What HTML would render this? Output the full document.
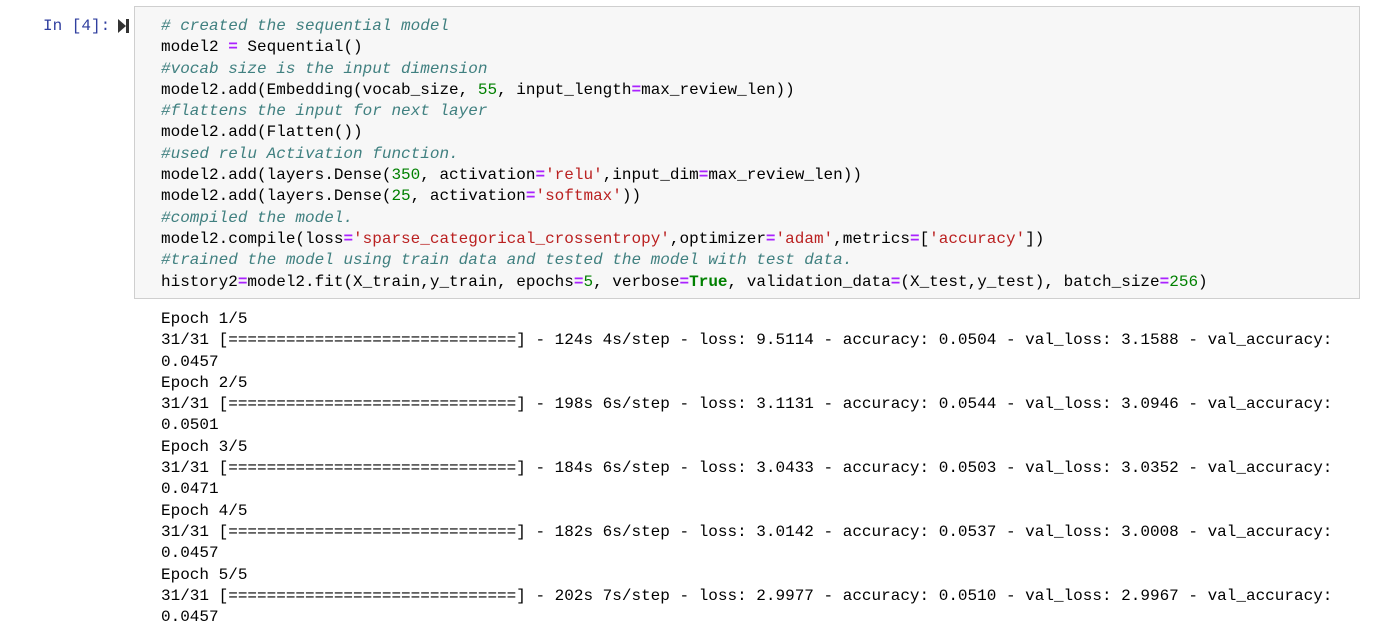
<!DOCTYPE html>
<html><head><style>
body{margin:0;width:1377px;height:631px;background:#fff;overflow:hidden;position:relative;font-family:"Liberation Mono",monospace;font-size:16px;}
.prompt{position:absolute;left:43px;top:16px;color:#303f9f;line-height:21.3px;}
.run{position:absolute;left:118px;top:19px;width:0;height:0;border-top:7px solid transparent;border-bottom:7px solid transparent;border-left:8px solid #333;}
.runbar{position:absolute;left:126px;top:19px;width:3px;height:14px;background:#333;}
.box{position:absolute;left:134px;top:6px;width:1226px;height:293px;background:#f7f7f7;border:1px solid #cfcfcf;box-sizing:border-box;}
pre{margin:0;font-family:"Liberation Mono",monospace;font-size:16px;line-height:21.3px;position:absolute;left:161px;white-space:pre;color:#000;}
.c{color:#408080;font-style:italic}
.o{color:#aa22ff;font-weight:bold}
.n{color:#008000}
.s{color:#ba2121}
.k{color:#008000;font-weight:bold}
</style></head><body>
<div class="prompt">In [4]:</div>
<div class="run"></div><div class="runbar"></div>
<div class="box"></div>
<pre style="top:16px"><span class="c"># created the sequential model</span>
model2 <span class="o">=</span> Sequential()
<span class="c">#vocab size is the input dimension</span>
model2.add(Embedding(vocab_size, <span class="n">55</span>, input_length<span class="o">=</span>max_review_len))
<span class="c">#flattens the input for next layer</span>
model2.add(Flatten())
<span class="c">#used relu Activation function.</span>
model2.add(layers.Dense(<span class="n">350</span>, activation<span class="o">=</span><span class="s">'relu'</span>,input_dim<span class="o">=</span>max_review_len))
model2.add(layers.Dense(<span class="n">25</span>, activation<span class="o">=</span><span class="s">'softmax'</span>))
<span class="c">#compiled the model.</span>
model2.compile(loss<span class="o">=</span><span class="s">'sparse_categorical_crossentropy'</span>,optimizer<span class="o">=</span><span class="s">'adam'</span>,metrics<span class="o">=</span>[<span class="s">'accuracy'</span>])
<span class="c">#trained the model using train data and tested the model with test data.</span>
history2<span class="o">=</span>model2.fit(X_train,y_train, epochs<span class="o">=</span><span class="n">5</span>, verbose<span class="o">=</span><span class="k">True</span>, validation_data<span class="o">=</span>(X_test,y_test), batch_size<span class="o">=</span><span class="n">256</span>)</pre>
<pre style="top:309px">Epoch 1/5
31/31 [==============================] - 124s 4s/step - loss: 9.5114 - accuracy: 0.0504 - val_loss: 3.1588 - val_accuracy:
0.0457
Epoch 2/5
31/31 [==============================] - 198s 6s/step - loss: 3.1131 - accuracy: 0.0544 - val_loss: 3.0946 - val_accuracy:
0.0501
Epoch 3/5
31/31 [==============================] - 184s 6s/step - loss: 3.0433 - accuracy: 0.0503 - val_loss: 3.0352 - val_accuracy:
0.0471
Epoch 4/5
31/31 [==============================] - 182s 6s/step - loss: 3.0142 - accuracy: 0.0537 - val_loss: 3.0008 - val_accuracy:
0.0457
Epoch 5/5
31/31 [==============================] - 202s 7s/step - loss: 2.9977 - accuracy: 0.0510 - val_loss: 2.9967 - val_accuracy:
0.0457</pre>
</body></html>
